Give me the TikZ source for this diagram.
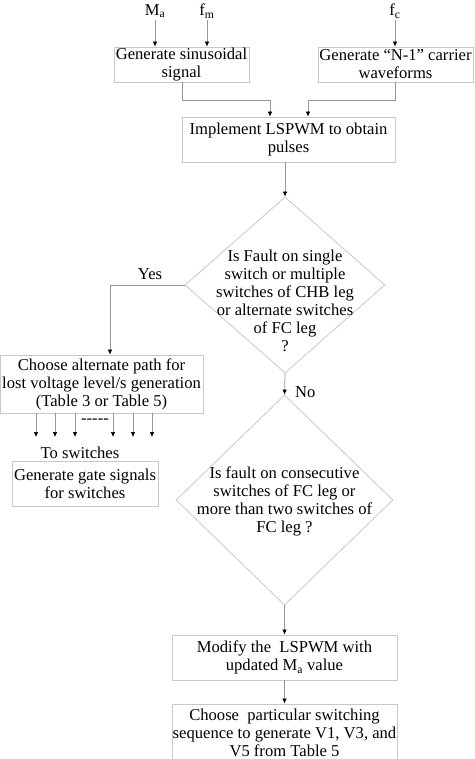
\documentclass[tikz,border=0pt]{standalone}
\usepackage{fontspec}
\setmainfont{Liberation Serif}
\usetikzlibrary{shapes.geometric,arrows.meta}
\definecolor{boxgray}{RGB}{200,200,200}
\definecolor{linegray}{RGB}{150,150,150}
\begin{document}
\begin{tikzpicture}[x=1pt,y=-1pt,
  font=\fontsize{16.6}{18}\selectfont,
  box/.style={draw=boxgray, line width=0.8pt, align=center, inner sep=0pt},
  dia/.style={draw=boxgray, line width=0.8pt, diamond, inner sep=0pt},
  txt/.style={align=center, inner sep=0pt},
  conn/.style={draw=linegray, line width=0.7pt, -{Latex[length=5pt,width=4.5pt,black]}},
  plain/.style={draw=linegray, line width=0.7pt}]
\useasboundingbox (0,0) rectangle (474,759);
% inputs
\node[txt] (ma) at (155,11) {M\textsubscript{a}};
\node[txt] (fm) at (207,11) {f\textsubscript{m}};
\node[txt] (fc) at (395,11) {f\textsubscript{c}};
% boxes
\node[box, minimum width=135, minimum height=35] (b1) at (181.5,64.5) {Generate sinusoidal\\signal};
\node[box, minimum width=155, minimum height=35] (b2) at (395.5,64.5) {Generate “N-1” carrier\\waveforms};
\node[box, minimum width=213, minimum height=45] (b3) at (288.5,139.5) {Implement LSPWM to obtain\\pulses};
\node[dia, minimum width=200, minimum height=176] (d1) at (285,285) {};
\node[txt] (d1t) at (285,301) {Is Fault on single\\switch or multiple\\switches of CHB leg\\or alternate switches\\of FC leg\\?};
\node[box, minimum width=203, minimum height=58] (b4) at (101.5,384) {Choose alternate path for\\lost voltage level/s generation\\(Table 3 or Table 5)};
\node[box, minimum width=146, minimum height=45] (b5) at (85,483.5) {Generate gate signals\\for switches};
\node[txt] (tosw) at (80,453) {To switches};
\node[txt] (dots) at (95,421) {-{}-{}-{}-{}-};
\node[dia, minimum width=217, minimum height=210] (d2) at (284.5,500) {};
\node[txt] (d2t) at (284.5,501) {Is fault on consecutive\\switches of FC leg or\\more than two switches of\\FC leg ?};
\node[box, minimum width=225, minimum height=45] (b6) at (284.5,657.5) {Modify the\ \ LSPWM with\\updated M\textsubscript{a} value};
\node[box, minimum width=225, minimum height=58] (b7) at (284.5,733) {Choose\ \ particular switching\\sequence to generate V1, V3, and\\V5 from Table 5};
\node[txt] (yes) at (150,274) {Yes};
\node[txt, anchor=west] (no) at (295,392) {No};
% connectors
\draw[conn] (ma.south |- 0,20) -- (ma.south |- b1.north);
\draw[conn] (fm.south |- 0,20) -- (fm.south |- b1.north);
\draw[conn] (fc.south |- 0,20) -- (fc.south |- b2.north);
\coordinate (j1) at (270,100);
\coordinate (j2) at (308,100);
\draw[conn] (b1.south -| 182,0) |- (j1) -- (j1 |- b3.north);
\draw[conn] (b2.south -| 395,0) |- (j2) -- (j2 |- b3.north);
\draw[conn] (b3.south -| d1.north) -- (d1.north);
\draw[conn] (d1.west) -| (b4.north -| 110,0);
\draw[conn] (d1.south) -- (d2.north);
\draw[conn] (d2.south) -- (b6.north -| d2.south);
\draw[conn] (b6.south) -- (b7.north);
\foreach \xx in {36,55,75,113,133,152}{
  \draw[conn] (b4.south -| \xx,0) -- (\xx,437);
}
\end{tikzpicture}
\end{document}
